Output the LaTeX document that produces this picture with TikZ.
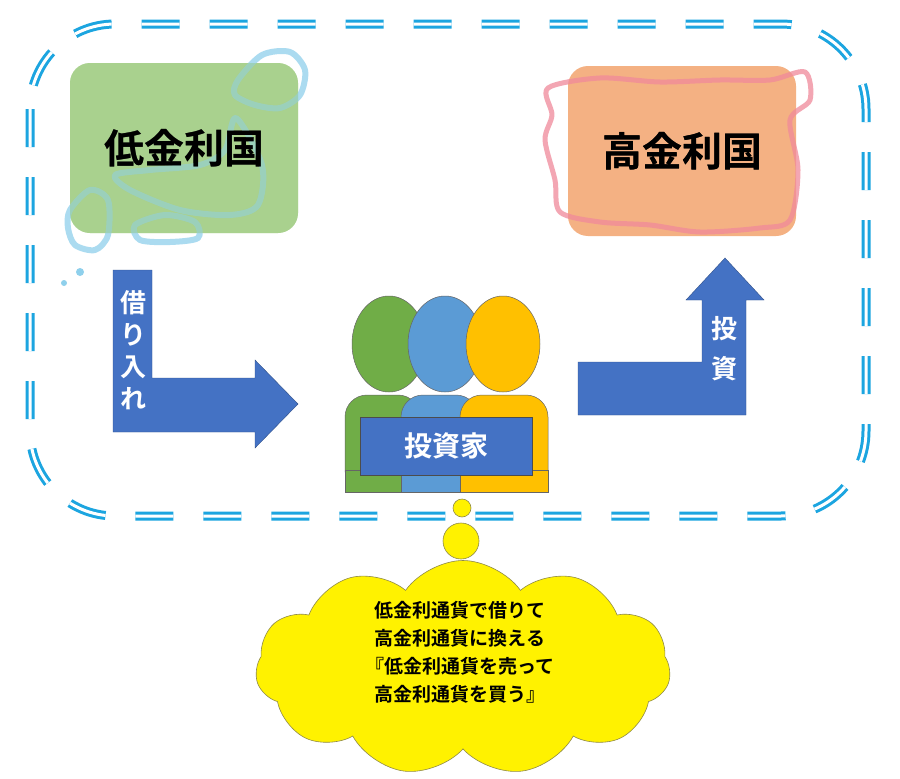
\documentclass[tikz,border=0pt]{standalone}
\usepackage{fontspec}
\newfontfamily\jp{Noto Sans CJK JP}[BoldFont={Noto Sans CJK JP Bold}]
\usetikzlibrary{shapes.symbols,shapes.geometric}
\definecolor{frame}{HTML}{1CA5E0}
\definecolor{gbox}{HTML}{A9D18E}
\definecolor{obox}{HTML}{F4B183}
\definecolor{sea}{HTML}{8FD0EC}
\definecolor{pinkl}{HTML}{F0899A}
\definecolor{arr}{HTML}{4472C4}
\definecolor{pg}{HTML}{70AD47}
\definecolor{pb}{HTML}{5B9BD5}
\definecolor{po}{HTML}{FFC000}
\tikzset{
  country/.style={rounded corners=20pt,minimum width=228pt,minimum height=170pt,font=\jp\bfseries\fontsize{40}{44}\selectfont,inner sep=0pt},
  arrowshape/.style={fill=arr,draw=arr!70!black,line width=0.4pt},
  wtext/.style={text=white,font=\jp\bfseries\fontsize{26}{30}\selectfont},
  head/.style={draw=black!60,line width=0.5pt},
  scrib/.style={line width=6pt,opacity=0.75,line join=round,line cap=round},
  bubble/.style={fill=yellow,draw=black!50!yellow,line width=0.6pt}
}
\begin{document}
\begin{tikzpicture}[x=1pt,y=-1pt]
\useasboundingbox[fill=white] (0,0) rectangle (900,779);
% frame
\draw[frame,line width=3pt,double=white,double distance=3pt,dash pattern=on 38pt off 30pt,rounded corners=85pt] (30,24) rectangle (866,516);
% low country
\node[country,fill=gbox] (low) at (184,148) {低金利国};
\draw[sea,scrib] plot[smooth cycle] coordinates {(238,80)(262,55)(290,52)(305,70)(300,95)(280,108)(255,105)(235,95)};
\draw[sea,scrib] plot[smooth cycle] coordinates {(236,118)(262,165)(258,205)(230,215)(180,210)(130,190)(115,175)(150,170)(200,165)(225,150)};
\draw[sea,scrib] plot[smooth cycle] coordinates {(70,210)(90,190)(108,200)(108,235)(95,250)(75,245)(68,228)};
\draw[sea,scrib] plot[smooth cycle] coordinates {(135,225)(165,215)(195,222)(198,238)(170,242)(140,240)};
\fill[sea] (80,272) circle (4pt);
\fill[sea] (64,283) circle (3pt);
\node[country,fill=gbox,opacity=0.35,draw=none] at (184,148) {};
\node[font=\jp\bfseries\fontsize{40}{44}\selectfont] at (184,148) {低金利国};
% high country
\node[country,fill=obox] (high) at (682,151) {高金利国};
\draw[pinkl,scrib,line width=5pt] plot[smooth cycle] coordinates {(548,88)(600,78)(660,82)(720,80)(770,80)(805,72)(810,100)(790,120)(798,170)(790,220)(760,228)(700,232)(650,225)(600,222)(560,212)(555,180)(545,140)(552,115)};
\node[font=\jp\bfseries\fontsize{40}{44}\selectfont] at (682,151) {高金利国};
% left arrow
\draw[arrowshape] (113,270) -- (152,270) -- (152,378) -- (255,378) -- (255,360) -- (298,404) -- (255,448) -- (255,432) -- (113,432) -- cycle;
\node[wtext,align=center,inner sep=0pt] (borrow) at (133,350) {借\\[2pt]り\\[2pt]入\\[2pt]れ};
% right arrow
\draw[arrowshape] (578,362) -- (702,362) -- (702,300) -- (686,300) -- (725,258) -- (764,300) -- (746,300) -- (746,415) -- (578,415) -- cycle;
\node[wtext,align=center,inner sep=0pt] (invest) at (724,349) {投\\[10pt]資};
% investors
\draw[head,fill=pg,rounded corners=22pt] (345,492) -- (345,395) -- (420,395) -- (420,492) -- cycle;
\draw[head,fill=pb,rounded corners=22pt] (401,492) -- (401,395) -- (478,395) -- (478,492) -- cycle;
\draw[head,fill=po,rounded corners=22pt] (460,492) -- (460,395) -- (548,395) -- (548,492) -- cycle;
\draw[head,fill=po] (460,470) rectangle (548,492);
\draw[head,fill=pb] (401,470) rectangle (460,492);
\draw[head,fill=pg] (345,470) rectangle (401,492);
\node[head,fill=pg,ellipse,minimum width=74pt,minimum height=96pt] (h1) at (389,344) {};
\node[head,fill=pb,ellipse,minimum width=74pt,minimum height=96pt] (h2) at (445,344) {};
\node[head,fill=po,ellipse,minimum width=74pt,minimum height=96pt] (h3) at (503,344) {};
\node[draw=black!70,line width=0.8pt,fill=arr,minimum width=172pt,minimum height=58pt,wtext,font=\jp\bfseries\fontsize{28}{30}\selectfont] (inv) at (446,446) {投資家};
% thought
\node[bubble,circle,minimum size=18pt,inner sep=0pt] (b1) at (462,508) {};
\node[bubble,circle,minimum size=36pt,inner sep=0pt] (b2) at (461,541) {};
\node[bubble,cloud,cloud puffs=11,cloud puff arc=110,aspect=1.9,minimum width=415pt,minimum height=215pt,inner sep=0pt] (cloud) at (463,668) {};
\node[font=\jp\bfseries\fontsize{19}{28}\selectfont,align=center] (ctext) at (460,652) {低金利通貨で借りて\\高金利通貨に換える\\『低金利通貨を売って\\高金利通貨を買う』};
\end{tikzpicture}
\end{document}
